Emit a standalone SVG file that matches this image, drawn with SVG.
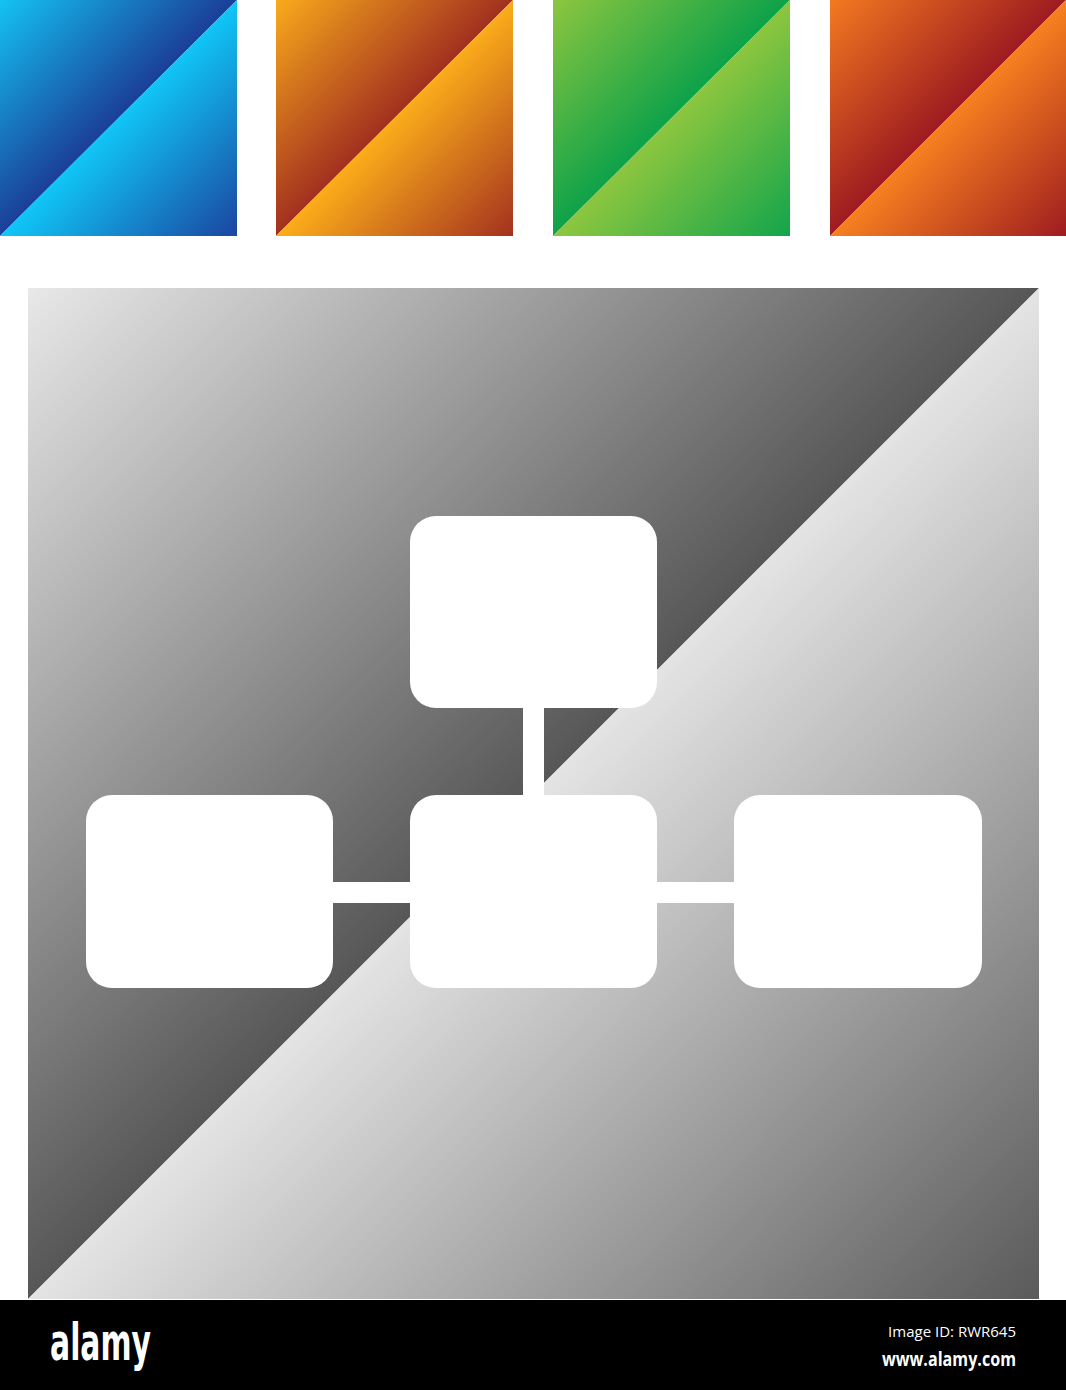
<svg xmlns="http://www.w3.org/2000/svg" width="1066" height="1390" viewBox="0 0 1066 1390">
  <defs>
    <linearGradient id="bU" x1="0" y1="0" x2="118" y2="118" gradientUnits="userSpaceOnUse">
      <stop offset="0" stop-color="#14c3f2"/><stop offset="1" stop-color="#1b3f98"/>
    </linearGradient>
    <linearGradient id="bL" x1="118" y1="118" x2="237" y2="236" gradientUnits="userSpaceOnUse">
      <stop offset="0" stop-color="#10c6f6"/><stop offset="1" stop-color="#1b45a0"/>
    </linearGradient>
    <linearGradient id="oU" x1="276" y1="0" x2="394" y2="118" gradientUnits="userSpaceOnUse">
      <stop offset="0" stop-color="#f9ab1c"/><stop offset="1" stop-color="#a2301f"/>
    </linearGradient>
    <linearGradient id="oL" x1="394" y1="118" x2="513" y2="236" gradientUnits="userSpaceOnUse">
      <stop offset="0" stop-color="#fbad1a"/><stop offset="1" stop-color="#a3311f"/>
    </linearGradient>
    <linearGradient id="gU" x1="553" y1="0" x2="671" y2="118" gradientUnits="userSpaceOnUse">
      <stop offset="0" stop-color="#8dc63f"/><stop offset="1" stop-color="#0ea24a"/>
    </linearGradient>
    <linearGradient id="gL" x1="671" y1="118" x2="790" y2="236" gradientUnits="userSpaceOnUse">
      <stop offset="0" stop-color="#8dc63f"/><stop offset="1" stop-color="#12a54b"/>
    </linearGradient>
    <linearGradient id="rU" x1="830" y1="0" x2="948" y2="118" gradientUnits="userSpaceOnUse">
      <stop offset="0" stop-color="#f47a21"/><stop offset="1" stop-color="#9d1b20"/>
    </linearGradient>
    <linearGradient id="rL" x1="948" y1="118" x2="1066" y2="236" gradientUnits="userSpaceOnUse">
      <stop offset="0" stop-color="#f6801f"/><stop offset="1" stop-color="#9e1c20"/>
    </linearGradient>
    <linearGradient id="kU" x1="28" y1="288" x2="533" y2="793" gradientUnits="userSpaceOnUse">
      <stop offset="0" stop-color="#e8e8e8"/><stop offset="1" stop-color="#575757"/>
    </linearGradient>
    <linearGradient id="kL" x1="533" y1="793" x2="1039" y2="1299" gradientUnits="userSpaceOnUse">
      <stop offset="0" stop-color="#e4e4e4"/><stop offset="1" stop-color="#5a5a5a"/>
    </linearGradient>
  </defs>
  <style>
    .node { fill: #ffffff; }
    .conn { fill: #ffffff; }
  </style>
  <rect x="0" y="0" width="1066" height="1390" fill="#ffffff"/>

  <g id="tile-blue">
    <polygon points="0,0 237,0 0,236" fill="url(#bU)"/>
    <polygon points="237,0 237,236 0,236" fill="url(#bL)"/>
  </g>
  <g id="tile-orange">
    <polygon points="276,0 513,0 276,236" fill="url(#oU)"/>
    <polygon points="513,0 513,236 276,236" fill="url(#oL)"/>
  </g>
  <g id="tile-green">
    <polygon points="553,0 790,0 553,236" fill="url(#gU)"/>
    <polygon points="790,0 790,236 553,236" fill="url(#gL)"/>
  </g>
  <g id="tile-red">
    <polygon points="830,0 1066,0 830,236" fill="url(#rU)"/>
    <polygon points="1066,0 1066,236 830,236" fill="url(#rL)"/>
  </g>

  <g id="panel">
    <polygon points="28,288 1039,288 28,1299" fill="url(#kU)"/>
    <polygon points="1039,288 1039,1299 28,1299" fill="url(#kL)"/>
  </g>

  <g id="connectors">
    <rect class="conn" x="523" y="700" width="21" height="104"/>
    <rect class="conn" x="325" y="882" width="93" height="21"/>
    <rect class="conn" x="649" y="882" width="93" height="21"/>
  </g>

  <g id="node-top"><rect class="node" x="410" y="516" width="247" height="192" rx="26"/></g>
  <g id="node-left"><rect class="node" x="86" y="795" width="247" height="193" rx="26"/></g>
  <g id="node-center"><rect class="node" x="410" y="795" width="247" height="193" rx="26"/></g>
  <g id="node-right"><rect class="node" x="734" y="795" width="248" height="193" rx="26"/></g>

  <g id="footer">
    <rect x="0" y="1300" width="1066" height="90" fill="#000000"/>
    <text x="50" y="1360" font-family="'Liberation Sans Narrow', 'DejaVu Sans Condensed', 'Liberation Sans', sans-serif" font-weight="bold" font-size="52" fill="#ffffff" textLength="101" lengthAdjust="spacingAndGlyphs">alamy</text>
    <text x="1016" y="1337" text-anchor="end" font-family="'Open Sans', 'Liberation Sans', sans-serif" font-size="15" fill="#ffffff">Image ID: RWR645</text>
    <text x="1016" y="1366" text-anchor="end" font-family="'Open Sans', 'Liberation Sans', sans-serif" font-weight="bold" font-size="19" fill="#ffffff" textLength="134" lengthAdjust="spacingAndGlyphs">www.alamy.com</text>
  </g>
</svg>
